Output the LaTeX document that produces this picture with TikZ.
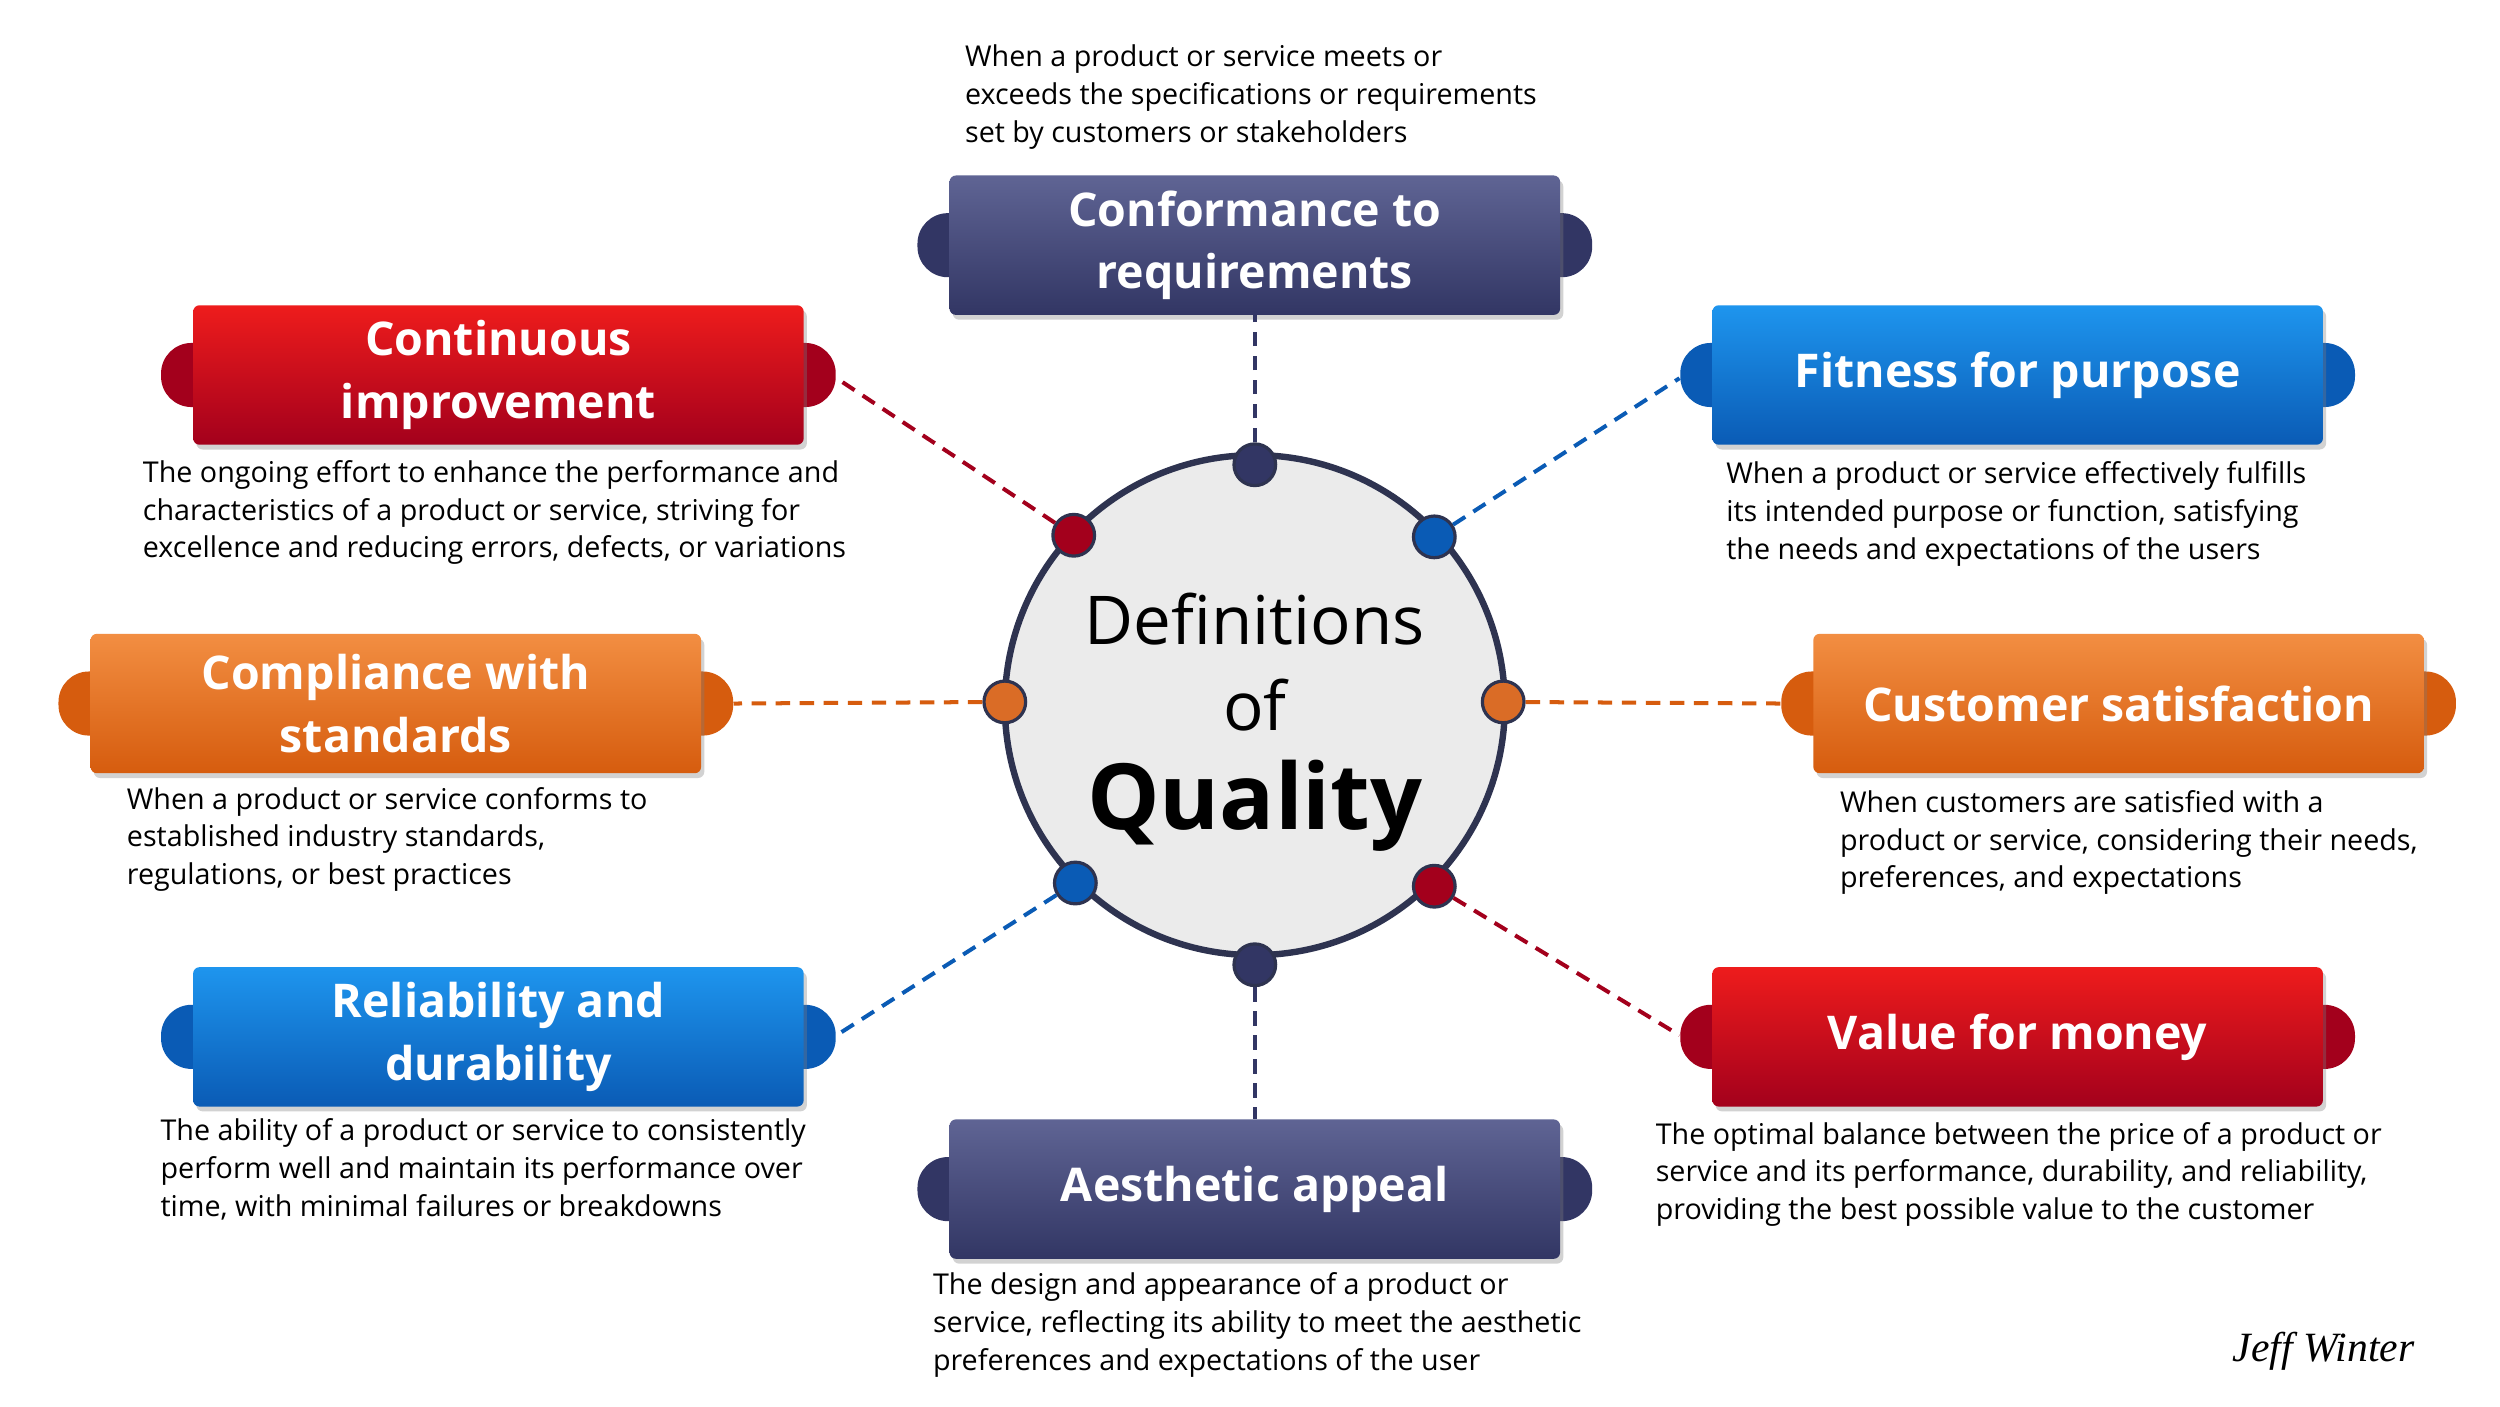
\documentclass[tikz,border=0pt]{standalone}
\usepackage{fontspec}
\setmainfont{Open Sans}
\usetikzlibrary{shadows}
\definecolor{navy}{HTML}{2E3350}
\definecolor{navyT}{HTML}{5F6494}\definecolor{navyB}{HTML}{323664}
\definecolor{redT}{HTML}{EE1C1C}\definecolor{redB}{HTML}{A3001C}
\definecolor{bluT}{HTML}{1E95EE}\definecolor{bluB}{HTML}{0A5BB5}
\definecolor{orT}{HTML}{F28E42}\definecolor{orB}{HTML}{D65C0E}
\tikzset{
 tab/.style={minimum width=421pt,minimum height=40pt,rounded corners=19pt,inner sep=0},
 band/.style={minimum width=381pt,minimum height=87pt,rounded corners=4pt,inner sep=0,
   text=white,font=\fontsize{29}{39}\selectfont\bfseries,align=center,drop shadow={opacity=0.35,shadow xshift=2pt,shadow yshift=-3pt}},
 desc/.style={anchor=north west,align=left,inner sep=0,font=\fontsize{17.9}{23.6}\selectfont,text=black},
 dot/.style={circle,minimum size=26pt,inner sep=0,draw=navy,line width=2pt},
 conn/.style={dashed,line width=2.5pt,dash pattern=on 9pt off 6pt}
}
\newcommand{\banner}[6]{%
 \node[tab,fill=#5] (#1t) at (#2,#3) {};
 \node[band,top color=#4,bottom color=#5] (#1) at (#2,#3) {#6};}
\begin{document}
\begin{tikzpicture}[x=1pt,y=-1pt]
\useasboundingbox[fill=white] (0,0) rectangle (1560,877.5);
\banner{conf}{783}{153}{navyT}{navyB}{Conformance to\\requirements}
\banner{cont}{311}{234}{redT}{redB}{Continuous\\improvement}
\banner{fit}{1259}{234}{bluT}{bluB}{Fitness for purpose}
\banner{comp}{247}{439}{orT}{orB}{Compliance with\\standards}
\banner{cust}{1322}{439}{orT}{orB}{Customer satisfaction}
\banner{rel}{311}{647}{bluT}{bluB}{Reliability and\\durability}
\banner{val}{1259}{647}{redT}{redB}{Value for money}
\banner{aes}{783}{742}{navyT}{navyB}{Aesthetic appeal}

\node[circle,minimum size=312pt,fill=black!8,draw=navy,line width=4pt] (c) at (783,440) {};
\node[font=\fontsize{42}{50}\selectfont] (d1) at (783,386) {Definitions};
\node[font=\fontsize{42}{50}\selectfont] (d2) at (783,440) {of};
\node[font=\fontsize{57}{66}\selectfont\bfseries] (d3) at (783,503) {Quality};

\node[dot,fill=navyB] (pt) at (783,290) {};
\node[dot,fill=navyB] (pb) at (783,602) {};
\node[dot,fill=orB!90] (pl) at (627,438) {};
\node[dot,fill=orB!90] (pr) at (938,438) {};
\node[dot,fill=redB] (pul) at (670,334) {};
\node[dot,fill=bluB] (pur) at (895,335) {};
\node[dot,fill=bluB] (pll) at (671,551) {};
\node[dot,fill=redB] (plr) at (895,553) {};

\coordinate (eul) at (522,236);\coordinate (eur) at (1048,236);
\coordinate (ell) at (522,646);\coordinate (elr) at (1048,646);
\draw[conn,draw=navyB] (pt) -- (conf.south);
\draw[conn,draw=navyB] (pb) -- (aes.north);
\draw[conn,draw=orB] (pl) -- (compt.east);
\draw[conn,draw=orB] (pr) -- (custt.west);
\draw[conn,draw=redB] (pul) -- (eul);
\draw[conn,draw=bluB] (pur) -- (eur);
\draw[conn,draw=bluB] (pll) -- (ell);
\draw[conn,draw=redB] (plr) -- (elr);

\node[desc] (t1) at (602,28) {When a product or service meets or\\exceeds the specifications or requirements\\set by customers or stakeholders};
\node[desc] (t2) at (89,287) {The ongoing effort to enhance the performance and\\characteristics of a product or service, striving for\\excellence and reducing errors, defects, or variations};
\node[desc] (t3) at (1077,288) {When a product or service effectively fulfills\\its intended purpose or function, satisfying\\the needs and expectations of the users};
\node[desc] (t4) at (79,491) {When a product or service conforms to\\established industry standards,\\regulations, or best practices};
\node[desc] (t5) at (1148,493) {When customers are satisfied with a\\product or service, considering their needs,\\preferences, and expectations};
\node[desc] (t6) at (100,698) {The ability of a product or service to consistently\\perform well and maintain its performance over\\time, with minimal failures or breakdowns};
\node[desc] (t7) at (1033,700) {The optimal balance between the price of a product or\\service and its performance, durability, and reliability,\\providing the best possible value to the customer};
\node[desc] (t8) at (582,794) {The design and appearance of a product or\\service, reflecting its ability to meet the aesthetic\\preferences and expectations of the user};
\node[font=\fontsize{26}{30}\selectfont\itshape\fontspec{Liberation Serif}] (sig) at (1450,843) {Jeff Winter};
\end{tikzpicture}
\end{document}
